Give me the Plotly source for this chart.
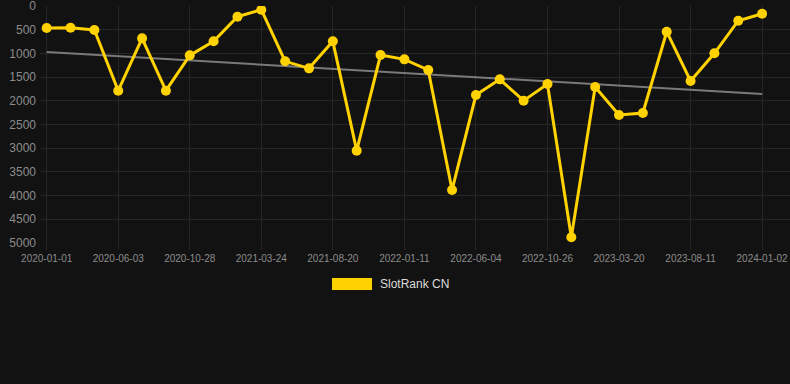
import plotly.graph_objects as go

dates = [
    "2020-01-01", "2020-02-21", "2020-04-12",
    "2020-06-03", "2020-07-22", "2020-09-09",
    "2020-10-28", "2020-12-16", "2021-02-03",
    "2021-03-24", "2021-05-13", "2021-07-02",
    "2021-08-20", "2021-10-08", "2021-11-25",
    "2022-01-11", "2022-02-28", "2022-04-17",
    "2022-06-04", "2022-07-22", "2022-09-08",
    "2022-10-26", "2022-12-14", "2023-01-31",
    "2023-03-20", "2023-05-07", "2023-06-24",
    "2023-08-11", "2023-09-28", "2023-11-15",
    "2024-01-02",
]
ranks = [
    464, 460, 506, 1787, 682, 1787, 1041, 745, 225, 77,
    1167, 1315, 745, 3052, 1034, 1125, 1350, 3882, 1878, 1547,
    1998, 1646, 4880, 1709, 2300, 2257, 542, 1582, 998, 310,
    162,
]
tick_labels = dates[::3]
trend_dates = [dates[0], dates[-1]]
trend_values = [970, 1857]
y_ticks = [0, 500, 1000, 1500, 2000, 2500, 3000, 3500, 4000, 4500, 5000]
series_name = "SlotRank CN"

W, H = 790, 384
ML, MR, MT, MB = 40, 0, 6, 141
pw, ph = W - ML - MR, H - MT - MB

def px_x(p):
    return (p - ML) / pw

def px_y(p):
    return (H - MB - p) / ph

bg = "#121212"
grid = "#262626"
txt = "#8c8c8c"
yellow = "#FFD200"

fig = go.Figure()
fig.add_trace(go.Scatter(
    x=trend_dates, y=trend_values, mode="lines",
    line=dict(color="#7a7a7a", width=2), showlegend=False, hoverinfo="skip",
))
fig.add_trace(go.Scatter(
    x=dates, y=ranks, mode="lines+markers", name=series_name,
    line=dict(color=yellow, width=3),
    marker=dict(color=yellow, size=10),
    showlegend=False,
))

fig.update_layout(
    width=W, height=H,
    margin=dict(l=ML, r=MR, t=MT, b=MB),
    paper_bgcolor=bg, plot_bgcolor=bg,
    font=dict(family="Liberation Sans, Arial, sans-serif", color=txt, size=11),
    xaxis=dict(
        type="category", categoryorder="array", categoryarray=dates,
        range=[-0.28, 31.17],
        tickmode="array", tickvals=tick_labels, ticktext=tick_labels,
        showgrid=True, gridcolor=grid, gridwidth=1,
        ticks="outside", ticklen=6, tickcolor=grid,
        tickfont=dict(size=10, color=txt),
        showline=False, zeroline=False,
    ),
    yaxis=dict(
        range=[5000.5, -0.5], autorange=False,
        tickmode="array", tickvals=y_ticks,
        showgrid=True, gridcolor=grid, gridwidth=1,
        ticks="", ticklabelstandoff=3, ticklabeloverflow="allow",
        tickfont=dict(size=12, color=txt),
        showline=False, zeroline=False,
    ),
    shapes=[dict(
        type="rect", xref="paper", yref="paper",
        x0=px_x(332), x1=px_x(372), y0=px_y(290), y1=px_y(278),
        fillcolor=yellow, line=dict(width=0),
    )],
    annotations=[dict(
        text=series_name, xref="paper", yref="paper",
        x=px_x(378), y=px_y(284), xanchor="left", yanchor="middle",
        showarrow=False, font=dict(size=12, color="#dcdcdc"),
    )],
)

fig.write_html(
    "out.html",
    config={"displayModeBar": False},
    post_script="document.body.style.margin='0';document.body.style.background='#121212';",
)
